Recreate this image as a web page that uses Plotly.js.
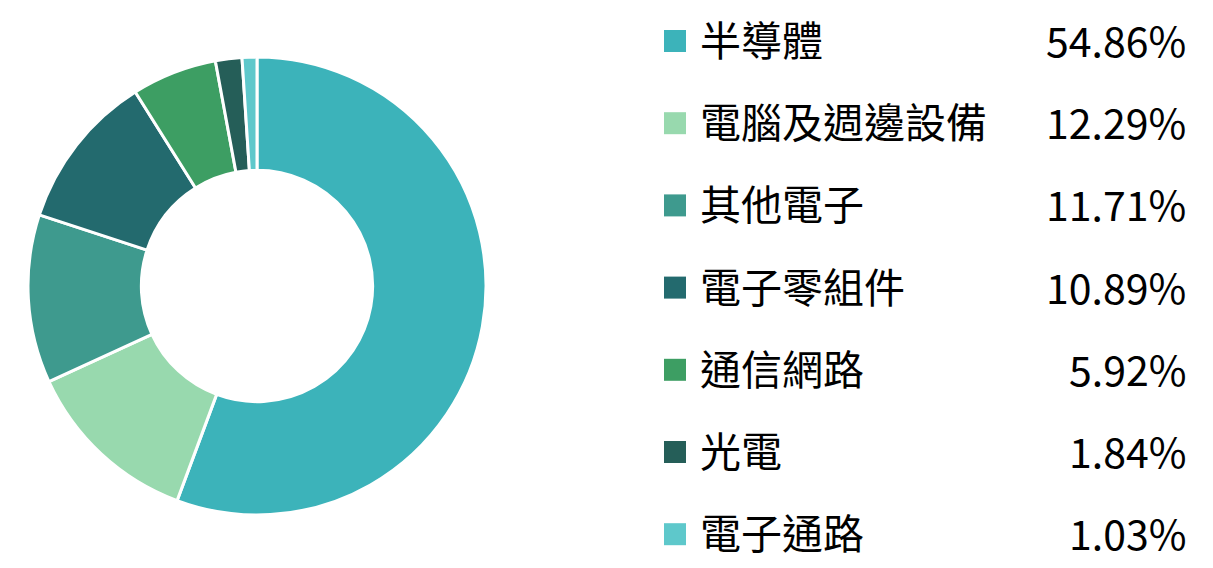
<!DOCTYPE html>
<html>
<head>
<meta charset="utf-8">
<script src="https://cdn.plot.ly/plotly-3.0.1.min.js"></script>
<style>
  html, body { margin: 0; padding: 0; background: #fff; }
  #chart { width: 1213px; height: 568px; }
</style>
</head>
<body>
<div id="chart"></div>
<script>
const categories = ["半導體", "電腦及週邊設備", "其他電子", "電子零組件", "通信網路", "光電", "電子通路"];
const shares = [54.86, 12.29, 11.71, 10.89, 5.92, 1.84, 1.03];
const colors = ["#3cb3ba", "#98d9ae", "#3e9a8e", "#236a6e", "#3d9e63", "#255e58", "#5ec8cb"];

const W = 1213, H = 568;
const font = "'Noto Sans CJK TC', 'Noto Sans', sans-serif";

let traces = [
  {
    type: "pie",
    labels: categories,
    values: shares,
    sort: false,
    direction: "clockwise",
    rotation: 0,
    hole: 0.505,
    textinfo: "none",
    hoverinfo: "label+value",
    marker: { colors: colors, line: { color: "#ffffff", width: 3 } },
    domain: { x: [28 / W, 486 / W], y: [1 - 515 / H, 1 - 57 / H] },
    showlegend: false
  }
];

// legend rows: square, label, percentage
let annotations = [];
let shapes = [];
const rowTop = 41, rowStep = 82.2;
categories.forEach((name, i) => {
  let yc = rowTop + i * rowStep;
  shapes.push({
    type: "rect", xref: "paper", yref: "paper",
    x0: 664 / W, x1: 686 / W,
    y0: 1 - (yc + 11) / H, y1: 1 - (yc - 11) / H,
    fillcolor: colors[i], line: { width: 0 }
  });
  annotations.push({
    xref: "paper", yref: "paper", x: 698 / W, y: 1 - (yc - 3) / H,
    xanchor: "left", yanchor: "middle", showarrow: false,
    text: name, font: { family: font, size: 41, color: "#000" }
  });
  annotations.push({
    xref: "paper", yref: "paper", x: 1188 / W, y: 1 - (yc - 2) / H,
    xanchor: "right", yanchor: "middle", showarrow: false,
    text: shares[i].toFixed(2) + "%", font: { family: font, size: 41, color: "#000" }
  });
});

let layout = {
  width: W,
  height: H,
  margin: { l: 0, r: 0, t: 0, b: 0 },
  paper_bgcolor: "#ffffff",
  plot_bgcolor: "#ffffff",
  showlegend: false,
  shapes: shapes,
  annotations: annotations
};

Plotly.newPlot("chart", traces, layout, { displayModeBar: false, staticPlot: true });
</script>
</body>
</html>
